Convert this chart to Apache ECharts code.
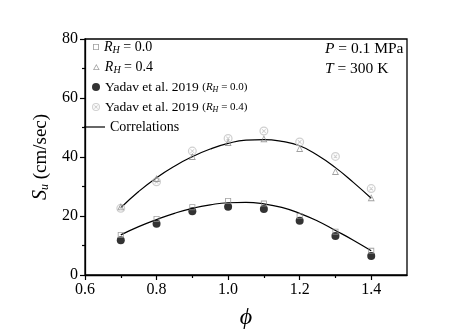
<!DOCTYPE html>
<html><head><meta charset="utf-8">
<script src="https://cdn.jsdelivr.net/npm/echarts@6/dist/echarts.min.js"></script>
<style>html,body{margin:0;padding:0;background:#fff}#c{width:474px;height:335px}</style>
</head><body><div id="c"></div>
<script>
var phi = [0.7, 0.8, 0.9, 1.0, 1.1, 1.2, 1.3, 1.4];
var rh00 = [13.6, 19.0, 23.0, 25.1, 24.2, 20.0, 14.7, 8.2];
var rh04 = [23.1, 32.7, 40.2, 44.9, 46.2, 42.9, 35.1, 26.2];
var yadav00 = [11.8, 17.4, 21.6, 23.1, 22.4, 18.4, 13.2, 6.4];
var yadav04 = [22.6, 31.6, 42.0, 46.3, 48.8, 45.1, 40.2, 29.3];
var corrPhi = [0.7, 0.75, 0.8, 0.85, 0.9, 0.95, 1.0, 1.05, 1.1, 1.15, 1.2, 1.25, 1.3, 1.35, 1.4];
var corrLow = [13.6, 16.4, 18.8, 20.9, 22.6, 23.8, 24.5, 24.6, 24.1, 22.9, 20.9, 18.3, 15.1, 11.8, 8.2];
var corrHigh = [22.8, 28.3, 33.0, 36.9, 40.1, 42.7, 44.6, 45.7, 45.9, 45.3, 43.8, 40.6, 36.4, 31.4, 26.0];
var xMajor = [0.6, 0.8, 1.0, 1.2, 1.4];
var xMinor = [0.7, 0.9, 1.1, 1.3];

function pairs(xs, ys) { return xs.map(function (x, i) { return [x, ys[i]]; }); }

var FONT = 'Liberation Serif';
var crossPath = 'path://M5,0 A5,5 0 0,1 5,10 A5,5 0 0,1 5,0 Z M5,1.4 A3.6,3.6 0 0,0 5,8.6 A3.6,3.6 0 0,0 5,1.4 Z M2.6,3.3 L3.3,2.6 L7.4,6.7 L6.7,7.4 Z M6.7,2.6 L7.4,3.3 L3.3,7.4 L2.6,6.7 Z';
var squarePath = 'path://M0,0 L10,0 L10,10 L0,10 Z M1.4,1.4 L1.4,8.6 L8.6,8.6 L8.6,1.4 Z';
var trianglePath = 'path://M5,0 L10,9 L0,9 Z M5,2.3 L1.9,7.8 L8.1,7.8 Z';

var legendNames = {
  'rh00': '{i|R}{sub|H}{t| = 0.0}',
  'rh04': '{i|R}{sub|H}{t| = 0.4}',
  'y00': '{y|Yadav et al. 2019 }{s|(}{si|R}{ssub|H}{s| = 0.0)}',
  'y04': '{y|Yadav et al. 2019 }{s|(}{si|R}{ssub|H}{s| = 0.4)}',
  'corr': '{t|Correlations}'
};
var legendText = {
  fontFamily: FONT, fontSize: 14, color: '#000', lineHeight: 16,
  rich: {
    t: { fontFamily: FONT, fontSize: 14, color: '#000', lineHeight: 16 },
    y: { fontFamily: FONT, fontSize: 13.5, color: '#000', lineHeight: 16 },
    i: { fontFamily: FONT, fontSize: 14, fontStyle: 'italic', color: '#000', lineHeight: 16 },
    sub: { fontFamily: FONT, fontSize: 10, fontStyle: 'italic', color: '#000', lineHeight: 12, padding: [6, 0, 0, 0] },
    s: { fontFamily: FONT, fontSize: 11, color: '#000', lineHeight: 16 },
    si: { fontFamily: FONT, fontSize: 11, fontStyle: 'italic', color: '#000', lineHeight: 16 },
    ssub: { fontFamily: FONT, fontSize: 8, fontStyle: 'italic', color: '#000', padding: [5, 0, 0, 0], lineHeight: 12 }
  }
};
function mkLegend(name, left, top, w, h, icon) {
  var d = { name: name };
  if (icon) d.icon = icon;
  return {
    orient: 'vertical', left: left, top: top, padding: 0,
    itemWidth: w, itemHeight: h, data: [d],
    formatter: function (n) { return legendNames[n]; },
    textStyle: legendText, selectedMode: false
  };
}

var chart = echarts.init(document.getElementById('c'));
chart.setOption({
  animation: false,
  backgroundColor: '#fff',
  textStyle: { fontFamily: FONT },
  grid: { left: 85, top: 39, right: 67, bottom: 57, show: true, borderColor: '#000', borderWidth: 1.3, backgroundColor: 'transparent' },
  title: {
    left: 325, top: 39, padding: 0,
    text: '{i|P}{t| = 0.1 MPa}\n{i|T}{t| = 300 K}',
    textStyle: {
      fontFamily: FONT, fontSize: 15.5, fontWeight: 'normal', color: '#000', lineHeight: 20,
      rich: {
        i: { fontFamily: FONT, fontStyle: 'italic', fontSize: 15.5, color: '#000', lineHeight: 20 },
        t: { fontFamily: FONT, fontSize: 15.5, color: '#000', lineHeight: 20 }
      }
    }
  },
  legend: [
    mkLegend('rh00', 93, 39, 6, 6, squarePath),
    mkLegend('rh04', 93, 59, 7, 6, trianglePath),
    mkLegend('y00', 92, 79, 8, 8),
    mkLegend('y04', 92, 99, 8, 8),
    mkLegend('corr', 84, 119, 21, 1.2, 'rect')
  ],
  xAxis: [{
    type: 'value', min: 0.6, max: 1.5,
    name: 'ϕ', nameLocation: 'middle', nameGap: 31,
    nameTextStyle: { fontFamily: FONT, fontStyle: 'italic', fontSize: 24, color: '#000' },
    axisLine: { show: true, lineStyle: { color: '#000', width: 1.3 } },
    axisTick: { show: true, length: 5, customValues: xMajor, lineStyle: { color: '#000', width: 1.2 } },
    axisLabel: { customValues: xMajor, fontFamily: FONT, fontSize: 16, color: '#000', margin: 7,
      formatter: function (v) { return v.toFixed(1); } },
    splitLine: { show: false }
  }, {
    type: 'value', min: 0.6, max: 1.5, position: 'bottom',
    axisLine: { show: false },
    axisTick: { show: true, length: 3, customValues: xMinor, lineStyle: { color: '#000', width: 1.2 } },
    axisLabel: { show: false },
    splitLine: { show: false }
  }],
  yAxis: {
    type: 'value', min: 0, max: 80, interval: 20,
    name: '{i|S}{sub|u}{t| (cm/sec)}', nameLocation: 'middle', nameGap: 29, nameRotate: 90,
    nameTextStyle: {
      fontFamily: FONT, fontSize: 19, color: '#000',
      rich: {
        i: { fontFamily: FONT, fontSize: 20, fontStyle: 'italic', color: '#000' },
        sub: { fontFamily: FONT, fontSize: 12, fontStyle: 'italic', color: '#000', padding: [9, 0, 0, 0] },
        t: { fontFamily: FONT, fontSize: 19, color: '#000' }
      }
    },
    axisLine: { show: true, lineStyle: { color: '#000', width: 1.3 } },
    axisTick: { show: true, length: 5, lineStyle: { color: '#000', width: 1.2 } },
    minorTick: { show: true, splitNumber: 2, length: 3, lineStyle: { color: '#000', width: 1.2 } },
    axisLabel: { fontFamily: FONT, fontSize: 16, color: '#000', margin: 7 },
    splitLine: { show: false }
  },
  series: [
    { name: 'corr', type: 'line', data: pairs(corrPhi, corrLow), smooth: true, symbol: 'none',
      lineStyle: { color: '#000', width: 1.2 }, itemStyle: { color: '#000' }, z: 1 },
    { name: 'corr', type: 'line', data: pairs(corrPhi, corrHigh), smooth: true, symbol: 'none',
      lineStyle: { color: '#000', width: 1.2 }, itemStyle: { color: '#000' }, z: 1 },
    { name: 'y04', type: 'scatter', data: pairs(phi, yadav04), symbol: crossPath, symbolSize: 9,
      itemStyle: { color: '#c4c4c4' }, z: 2 },
    { name: 'y00', type: 'scatter', data: pairs(phi, yadav00), symbol: 'circle', symbolSize: 8,
      itemStyle: { color: '#000' }, z: 3 },
    { name: 'rh00', type: 'scatter', data: pairs(phi, rh00), symbol: squarePath, symbolSize: 6,
      itemStyle: { color: '#888' }, z: 4 },
    { name: 'rh04', type: 'scatter', data: pairs(phi, rh04), symbol: trianglePath, symbolSize: 7,
      itemStyle: { color: '#888' }, z: 4 }
  ]
});
</script></body></html>
